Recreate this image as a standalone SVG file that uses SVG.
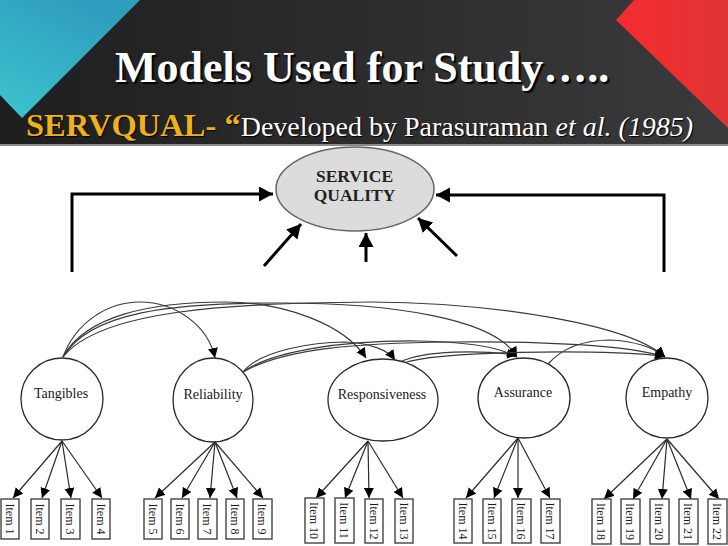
<svg xmlns="http://www.w3.org/2000/svg" width="728" height="546" viewBox="0 0 728 546">
<style>
.node{fill:#fff;stroke:#2a2a2a;stroke-width:1.3}
.lbl{font-family:"Liberation Serif",serif;font-size:14px;fill:#1a1a1a;text-anchor:middle}
.itm{font-family:"Liberation Serif",serif;font-size:12px;fill:#1a1a1a;text-anchor:middle}
.box{fill:#fff;stroke:#444;stroke-width:1.4}
.thick{fill:none;stroke:#000;stroke-width:3;marker-end:url(#big)}
.arr{fill:none;stroke:#2a2a2a;stroke-width:1.2;marker-end:url(#small)}
.cur{fill:none;stroke:#3a3a3a;stroke-width:1.2;marker-end:url(#small)}
</style>
<defs>
<linearGradient id="hdr" x1="0" y1="0" x2="1" y2="0"><stop offset="0" stop-color="#1e1e1e"/><stop offset="0.6" stop-color="#2f2f30"/><stop offset="1" stop-color="#3a3a3c"/></linearGradient>
<linearGradient id="cy" x1="0" y1="1" x2="0.6" y2="0"><stop offset="0" stop-color="#3cc4cf"/><stop offset="1" stop-color="#2f9dbd"/></linearGradient>
<linearGradient id="rd" x1="0" y1="0.3" x2="1" y2="0.3"><stop offset="0" stop-color="#f52b30"/><stop offset="1" stop-color="#e03433"/></linearGradient>
<marker id="big" markerUnits="userSpaceOnUse" markerWidth="16" markerHeight="16" refX="14" refY="7.500" orient="auto"><path d="M0 0L14 7.500L0 15Z" fill="#000"/></marker>
<marker id="small" markerUnits="userSpaceOnUse" markerWidth="12" markerHeight="11" refX="10" refY="5" orient="auto"><path d="M0 0L10 5L0 10Z" fill="#000"/></marker>
</defs>
<rect width="728" height="546" fill="#fff"/>
<rect width="728" height="145" fill="url(#hdr)"/>
<rect y="144" width="728" height="2" fill="#8a8a8a"/>
<polygon points="0,0 140,0 22,118 0,95" fill="url(#cy)"/>
<polygon points="634,0 728,0 728,128 616,20" fill="url(#rd)"/>
<text x="115" y="82" font-family="Liberation Serif, serif" font-weight="bold" font-size="44" fill="#fff" style="text-shadow:2px 2px 1px #000">Models Used for Study…..</text>
<text x="26" y="136" font-family="Liberation Serif, serif" font-size="28" fill="#fff" style="text-shadow:1px 1px 1px #000"><tspan font-weight="bold" font-size="32.500" fill="#eeb01c">SERVQUAL- “</tspan>Developed by Parasuraman <tspan font-style="italic">et al. (1985)</tspan></text>

<g id="connectors">
<path class="thick" d="M72 272V194H273"/>
<path class="thick" d="M664 272V195H436"/>
<path class="thick" d="M264 266L301 224"/>
<path class="thick" d="M366 262V233"/>
<path class="thick" d="M457 256L418 218"/>
<path class="cur" d="M63 357C76 322 108 302 140 302C175 302 208 325 215 358"/>
<path class="cur" d="M63 357C85 316 150 302 225 302C285 302 345 325 366 358"/>
<path class="cur" d="M63 357C90 312 170 303 280 303C390 303 495 318 517 357"/>
<path class="cur" d="M63 357C100 310 230 303 370 302C500 303 630 325 665 357"/>
<path class="cur" d="M243 372C260 350 315 342 345 342C370 343 388 350 395 360"/>
<path class="cur" d="M243 372C270 352 340 340 420 341C465 342 500 347 517 357"/>
<path class="cur" d="M243 372C285 348 360 343 450 342C540 341 630 345 665 357"/>
<path class="cur" d="M400 362C425 350 480 350 517 355"/>
<path class="cur" d="M403 363C440 351 590 349 665 356"/>
<path class="cur" d="M548 364C565 345 590 340 610 340C635 341 655 348 665 357"/>
<path class="arr" d="M62 441L13 498"/><path class="arr" d="M62 441L42 498"/><path class="arr" d="M62 441L71 498"/><path class="arr" d="M62 441L102 498"/>
<path class="arr" d="M215 442L155 498"/><path class="arr" d="M215 442L182 498"/><path class="arr" d="M215 442L210 498"/><path class="arr" d="M215 442L237 498"/><path class="arr" d="M215 442L263 498"/>
<path class="arr" d="M368 441L316 498"/><path class="arr" d="M368 441L345 498"/><path class="arr" d="M368 441L369 498"/><path class="arr" d="M368 441L403 498"/>
<path class="arr" d="M518 438L466 498"/><path class="arr" d="M518 438L494 498"/><path class="arr" d="M518 438L518 498"/><path class="arr" d="M518 438L550 498"/>
<path class="arr" d="M667 439L604 499"/><path class="arr" d="M667 439L633 499"/><path class="arr" d="M667 439L662 499"/><path class="arr" d="M667 439L691 499"/><path class="arr" d="M667 439L719 499"/>
</g>

<g id="service-quality"><ellipse cx="355" cy="189" rx="79" ry="42" fill="#dcdcdc" stroke="#666" stroke-width="1.5"/>
<text x="354.500" y="182" font-family="Liberation Serif, serif" font-weight="bold" font-size="17.500" fill="#222" text-anchor="middle">SERVICE</text>
<text x="354.500" y="201" font-family="Liberation Serif, serif" font-weight="bold" font-size="17.500" fill="#222" text-anchor="middle">QUALITY</text></g>
<g id="tangibles"><ellipse class="node" cx="62" cy="399" rx="41" ry="41"/><text class="lbl" x="61" y="398">Tangibles</text></g>
<g id="reliability"><ellipse class="node" cx="213" cy="400" rx="40" ry="42"/><text class="lbl" x="213" y="399">Reliability</text></g>
<g id="responsiveness"><ellipse class="node" cx="383" cy="400" rx="55" ry="41"/><text class="lbl" x="382" y="399">Responsiveness</text></g>
<g id="assurance"><ellipse class="node" cx="524" cy="398" rx="46" ry="40"/><text class="lbl" x="523" y="397">Assurance</text></g>
<g id="empathy"><ellipse class="node" cx="667" cy="398" rx="41" ry="40"/><text class="lbl" x="667" y="397">Empathy</text></g>

<g id="item1"><rect class="box" x="1" y="499" width="18" height="40"/><text class="itm" transform="translate(6 519) rotate(90)">Item 1</text></g>
<g id="item2"><rect class="box" x="31" y="499" width="18" height="40"/><text class="itm" transform="translate(36 519) rotate(90)">Item 2</text></g>
<g id="item3"><rect class="box" x="61" y="499" width="19" height="40"/><text class="itm" transform="translate(66 519) rotate(90)">Item 3</text></g>
<g id="item4"><rect class="box" x="92" y="499" width="18" height="40"/><text class="itm" transform="translate(97 519) rotate(90)">Item 4</text></g>
<g id="item5"><rect class="box" x="144" y="499" width="18" height="40"/><text class="itm" transform="translate(149 519) rotate(90)">Item 5</text></g>
<g id="item6"><rect class="box" x="171" y="499" width="18" height="40"/><text class="itm" transform="translate(176 519) rotate(90)">Item 6</text></g>
<g id="item7"><rect class="box" x="198" y="499" width="19" height="40"/><text class="itm" transform="translate(203 519) rotate(90)">Item 7</text></g>
<g id="item8"><rect class="box" x="226" y="499" width="18" height="40"/><text class="itm" transform="translate(231 519) rotate(90)">Item 8</text></g>
<g id="item9"><rect class="box" x="253" y="499" width="19" height="40"/><text class="itm" transform="translate(258 519) rotate(90)">Item 9</text></g>
<g id="item10"><rect class="box" x="305" y="498" width="19" height="45"/><text class="itm" transform="translate(310 520.500) rotate(90)">Item 10</text></g>
<g id="item11"><rect class="box" x="335" y="498" width="19" height="45"/><text class="itm" transform="translate(340 520.500) rotate(90)">Item 11</text></g>
<g id="item12"><rect class="box" x="365" y="499" width="18" height="44"/><text class="itm" transform="translate(370 521) rotate(90)">Item 12</text></g>
<g id="item13"><rect class="box" x="395" y="499" width="18" height="44"/><text class="itm" transform="translate(400 521) rotate(90)">Item 13</text></g>
<g id="item14"><rect class="box" x="454" y="499" width="18" height="44"/><text class="itm" transform="translate(459 521) rotate(90)">Item 14</text></g>
<g id="item15"><rect class="box" x="483" y="499" width="18" height="44"/><text class="itm" transform="translate(488 521) rotate(90)">Item 15</text></g>
<g id="item16"><rect class="box" x="512" y="499" width="19" height="44"/><text class="itm" transform="translate(517 521) rotate(90)">Item 16</text></g>
<g id="item17"><rect class="box" x="541" y="499" width="19" height="44"/><text class="itm" transform="translate(546 521) rotate(90)">Item 17</text></g>
<g id="item18"><rect class="box" x="592" y="499" width="19" height="45"/><text class="itm" transform="translate(597 521.500) rotate(90)">Item 18</text></g>
<g id="item19"><rect class="box" x="621" y="499" width="19" height="45"/><text class="itm" transform="translate(626 521.500) rotate(90)">Item 19</text></g>
<g id="item20"><rect class="box" x="650" y="499" width="19" height="45"/><text class="itm" transform="translate(655 521.500) rotate(90)">Item 20</text></g>
<g id="item21"><rect class="box" x="679" y="499" width="19" height="45"/><text class="itm" transform="translate(684 521.500) rotate(90)">Item 21</text></g>
<g id="item22"><rect class="box" x="708" y="499" width="19" height="45"/><text class="itm" transform="translate(713 521.500) rotate(90)">Item 22</text></g>
</svg>
